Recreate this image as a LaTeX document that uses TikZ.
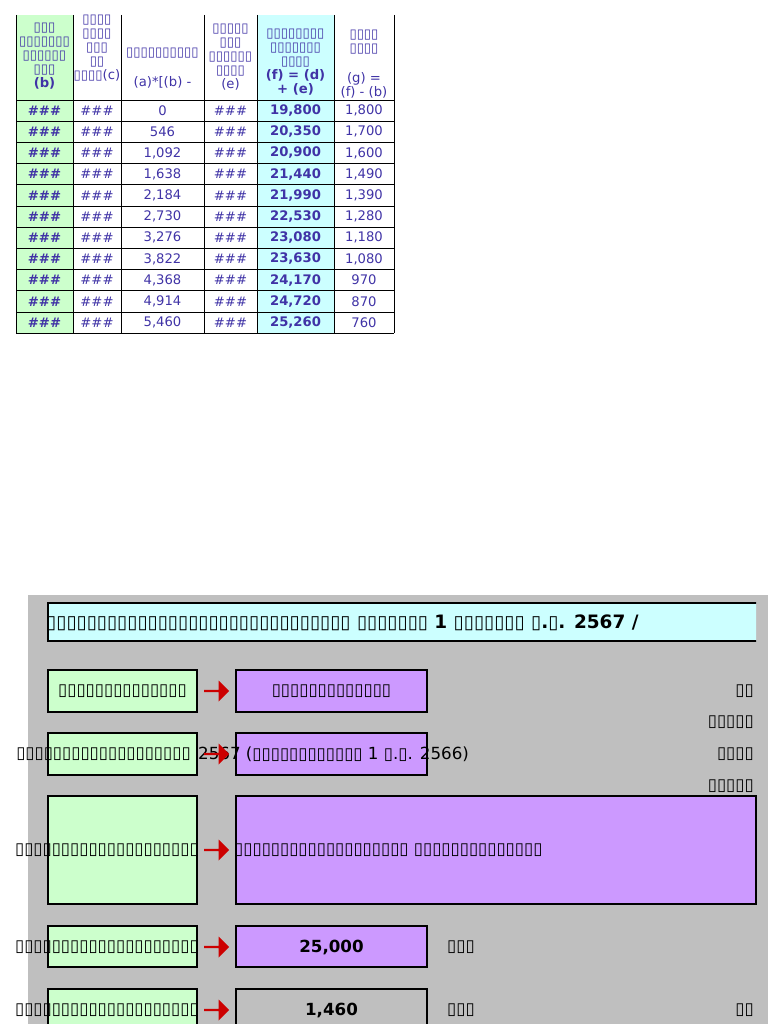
\documentclass[tikz,border=0pt]{standalone}
\usepackage{fontspec}
\setmainfont{DejaVu Sans}
\usetikzlibrary{shapes.arrows}
\definecolor{tblue}{rgb}{0.25,0.2,0.65}
\definecolor{lgreen}{rgb}{0.8,1,0.8}
\definecolor{lcyan}{rgb}{0.8,1,1}
\definecolor{lpurple}{rgb}{0.8,0.6,1}
\definecolor{sheetgray}{rgb}{0.75,0.75,0.75}
\definecolor{arrred}{rgb}{0.8,0,0}
\tikzset{
  cell/.style={font=\fontsize{7.5}{8}\selectfont, text=tblue},
  box/.style={draw=black, line width=0.6pt},
  lab/.style={font=\fontsize{9.5}{11}\selectfont},
  redarrow/.style={single arrow, fill=arrred, draw=none, minimum height=0.5cm, minimum width=0.42cm, single arrow head extend=0.06cm, inner sep=0pt},
}
\begin{document}
\begin{tikzpicture}[x=0.02cm,y=-0.02cm]
\useasboundingbox (0,0) rectangle (768,1024);
% table
\fill[lgreen] (16,15) rectangle (73,333);
\fill[lcyan] (257,15) rectangle (334,333);
\foreach \x in {16,73,121,204,257,334,394} \draw[line width=0.5pt] (\x,15) -- (\x,333);
\foreach \y in {100,121.2,142.4,163.6,184.8,206,227.2,248.4,269.6,290.8,312,333} \draw[line width=0.5pt] (16,\y) -- (394,\y);
\node[cell, align=center] (hb) at (44.5,56) {▯▯▯\\▯▯▯▯▯▯▯\\▯▯▯▯▯▯\\▯▯▯\\\textbf{(b)}};
\node[cell, align=center] (hc) at (97,48) {▯▯▯▯\\▯▯▯▯\\▯▯▯\\▯▯\\▯▯▯▯(c)};
\node[cell, align=center] (hd) at (162.5,68) {▯▯▯▯▯▯▯▯▯▯\\[1.2em](a)*[(b) -};
\node[cell, align=center] (he) at (230.5,57) {▯▯▯▯▯\\▯▯▯\\▯▯▯▯▯▯\\▯▯▯▯\\(e)};
\node[cell, align=center] (hf) at (295.5,62) {▯▯▯▯▯▯▯▯\\▯▯▯▯▯▯▯\\▯▯▯▯\\\textbf{(f) = (d)}\\\textbf{+ (e)}};
\node[cell, align=center] (hg) at (364,64) {▯▯▯▯\\▯▯▯▯\\[1.2em](g) =\\(f) - (b)};
\foreach \d/\f/\g [count=\i from 0] in {0/19,800/1,800, 546/20,350/1,700, 1,092/20,900/1,600}
  {}
\foreach \d/\f/\g [count=\i from 0] in {0/{19,800}/{1,800}, 546/{20,350}/{1,700}, {1,092}/{20,900}/{1,600}, {1,638}/{21,440}/{1,490}, {2,184}/{21,990}/{1,390}, {2,730}/{22,530}/{1,280}, {3,276}/{23,080}/{1,180}, {3,822}/{23,630}/{1,080}, {4,368}/{24,170}/970, {4,914}/{24,720}/870, {5,460}/{25,260}/760}
{
  \node[cell, font=\fontsize{7.5}{8}\selectfont\bfseries] (b\i) at (44.5,110.6+21.2*\i) {\#\#\#};
  \node[cell] (c\i) at (97,110.6+21.2*\i) {\#\#\#};
  \node[cell] (d\i) at (162.5,110.6+21.2*\i) {\d};
  \node[cell] (e\i) at (230.5,110.6+21.2*\i) {\#\#\#};
  \node[cell, font=\fontsize{7.5}{8}\selectfont\bfseries] (f\i) at (295.5,110.6+21.2*\i) {\f};
  \node[cell] (g\i) at (364,110.6+21.2*\i) {\g};
}
% form
\fill[sheetgray] (28,595) rectangle (768,1024);
\begin{scope}
\clip (28,595) rectangle (756,1024);
\draw[box, fill=lcyan, line width=1pt] (48,603) rectangle (760,641);
\node[lab, font=\fontsize{10.5}{12}\selectfont\bfseries, anchor=west] (title) at (40,623) {▯▯▯▯▯▯▯▯▯▯▯▯▯▯▯▯▯▯▯▯▯▯▯▯▯▯▯▯▯▯ ▯▯▯▯▯▯▯ 1 ▯▯▯▯▯▯▯ ▯.▯. 2567 /};
\end{scope}
\draw[box, fill=lgreen] (48,670) rectangle (197,712);
\draw[box, fill=lpurple] (236,670) rectangle (427,712);
\draw[box, fill=lgreen] (48,733) rectangle (197,775);
\draw[box, fill=lpurple] (236,733) rectangle (427,775);
\draw[box, fill=lgreen] (48,796) rectangle (197,904);
\draw[box, fill=lpurple] (236,796) rectangle (756,904);
\draw[box, fill=lgreen] (48,926) rectangle (197,967);
\draw[box, fill=lpurple] (236,926) rectangle (427,967);
\draw[box, fill=lgreen] (48,989) rectangle (197,1030);
\draw[box, fill=sheetgray] (236,989) rectangle (427,1030);
\node[lab] (l1) at (122.5,691) {▯▯▯▯▯▯▯▯▯▯▯▯▯▯};
\node[lab] (v1) at (331.5,691) {▯▯▯▯▯▯▯▯▯▯▯▯▯};
\node[lab, anchor=east] (l2) at (197,754) {▯▯▯▯▯▯▯▯▯▯▯▯▯▯▯▯▯▯▯};
\node[lab, anchor=west] (v2) at (192,754) {2567 (▯▯▯▯▯▯▯▯▯▯▯▯ 1 ▯.▯. 2566)};
\node[lab, anchor=east] (l3) at (205,850) {▯▯▯▯▯▯▯▯▯▯▯▯▯▯▯▯▯▯▯▯};
\node[lab, anchor=west] (v3) at (228,850) {▯▯▯▯▯▯▯▯▯▯▯▯▯▯▯▯▯▯▯ ▯▯▯▯▯▯▯▯▯▯▯▯▯▯};
\node[lab, anchor=east] (l4) at (205,947) {▯▯▯▯▯▯▯▯▯▯▯▯▯▯▯▯▯▯▯▯};
\node[lab, font=\fontsize{9.5}{11}\selectfont\bfseries] (v4) at (331.5,947) {25,000};
\node[lab, anchor=west] (u4) at (441,947) {▯▯▯};
\node[lab, anchor=east] (l5) at (205,1010) {▯▯▯▯▯▯▯▯▯▯▯▯▯▯▯▯▯▯▯▯};
\node[lab, font=\fontsize{9.5}{11}\selectfont\bfseries] (v5) at (331.5,1010) {1,460};
\node[lab, anchor=west] (u5) at (441,1010) {▯▯▯};
\foreach \y in {691,754,850,947,1010} \node[redarrow] (a\y) at (216,\y) {};
\node[lab, anchor=east] (r1) at (760,691) {▯▯};
\node[lab, anchor=east] (r2) at (760,722) {▯▯▯▯▯};
\node[lab, anchor=east] (r3) at (760,754) {▯▯▯▯};
\node[lab, anchor=east] (r4) at (760,786) {▯▯▯▯▯};
\node[lab, anchor=east] (r5) at (760,1010) {▯▯};
\end{tikzpicture}
\end{document}
